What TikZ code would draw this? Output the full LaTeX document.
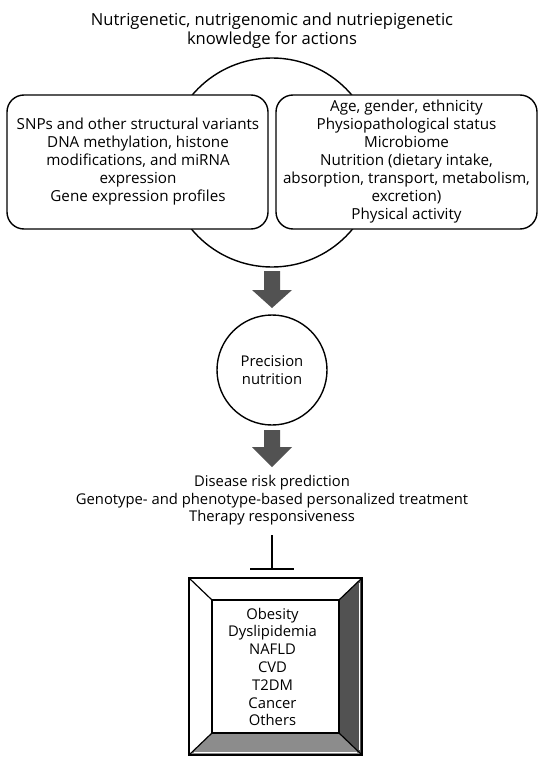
\documentclass[tikz,border=0pt]{standalone}
\usepackage{fontspec}
\setmainfont{Open Sans}
\usetikzlibrary{calc}
\begin{document}
\begin{tikzpicture}[x=1pt,y=-1pt,
  txt/.style={align=center,inner sep=0pt,font=\fontsize{15.2}{18}\selectfont},
  rbox/.style={draw,line width=1.4pt,rounded corners=17pt,fill=white},
  blockarrow/.style={fill=black!68,draw=none},
  thick line/.style={line width=1.4pt}]
\useasboundingbox (0,0) rectangle (545,770);
% title
\node[txt,font=\fontsize{16.6}{19}\selectfont] (title) at (272,30.5)
  {Nutrigenetic, nutrigenomic and nutriepigenetic\\knowledge for actions};
% big circle
\node[draw,circle,line width=1.4pt,minimum size=209pt,inner sep=0pt] (big) at (272,162.5) {};
% boxes
\draw[rbox] (7,95) rectangle (268,229);
\draw[rbox] (276,95) rectangle (537,229);
\node[txt] (left) at (138,162)
  {SNPs and other structural variants\\DNA methylation, histone\\modifications, and miRNA\\expression\\Gene expression profiles};
\node[txt] (right) at (406.5,162)
  {Age, gender, ethnicity\\Physiopathological status\\Microbiome\\Nutrition (dietary intake,\\absorption, transport, metabolism,\\excretion)\\Physical activity};
% precision circle
\node[draw,circle,line width=1.4pt,minimum size=110pt,inner sep=0pt,txt,font=\fontsize{14.8}{17.5}\selectfont] (prec) at (272,370) {Precision\\nutrition};
% arrow 1
\fill[blockarrow] (264,271) -- (280,271) -- (280,290) -- (292,290) -- (272,308) -- (252,290) -- (264,290) -- cycle;
% arrow 2
\fill[blockarrow] (264,430) -- (280,430) -- (280,447) -- (292,447) -- (272,467) -- (252,447) -- (264,447) -- cycle;
% outcomes
\node[txt,font=\fontsize{14.8}{17.5}\selectfont] (out) at (272,500.5)
  {Disease risk prediction\\Genotype- and phenotype-based personalized treatment\\Therapy responsiveness};
% inhibitor
\coordinate (bar) at (272,569);
\draw[thick line] (272,535) -- (bar);
\draw[thick line] ($(bar)+(-22,0)$) -- ($(bar)+(22,0)$);
% bevel box
\coordinate (o1) at (189,578); \coordinate (o2) at (362,578);
\coordinate (o3) at (362,755); \coordinate (o4) at (189,755);
\coordinate (i1) at (212,600); \coordinate (i2) at (339,600);
\coordinate (i3) at (339,733); \coordinate (i4) at (212,733);
\fill[white] (o1) -- (o2) -- (i2) -- (i1) -- cycle;
\fill[white] (o1) -- (i1) -- (i4) -- (o4) -- cycle;
\fill[black!68] (o2) -- (o3) -- (i3) -- (i2) -- cycle;
\fill[black!45] (o4) -- (i4) -- (i3) -- (o3) -- cycle;
\draw[white,line width=0.9pt] (194,752) -- (357,752);
\draw[white,line width=0.9pt] (359,583) -- (359,750);
\draw[line width=1.2pt] (o1) -- (i1) (o2) -- (i2) (o3) -- (i3) (o4) -- (i4);
\draw[line width=1.2pt] (i1) rectangle (i3);
\draw[line width=1.6pt] (o1) rectangle (o3);
\node[txt,font=\fontsize{14.8}{17.8}\selectfont] (dis) at (272.5,667)
  {Obesity\\Dyslipidemia\\NAFLD\\CVD\\T2DM\\Cancer\\Others};
\end{tikzpicture}
\end{document}
